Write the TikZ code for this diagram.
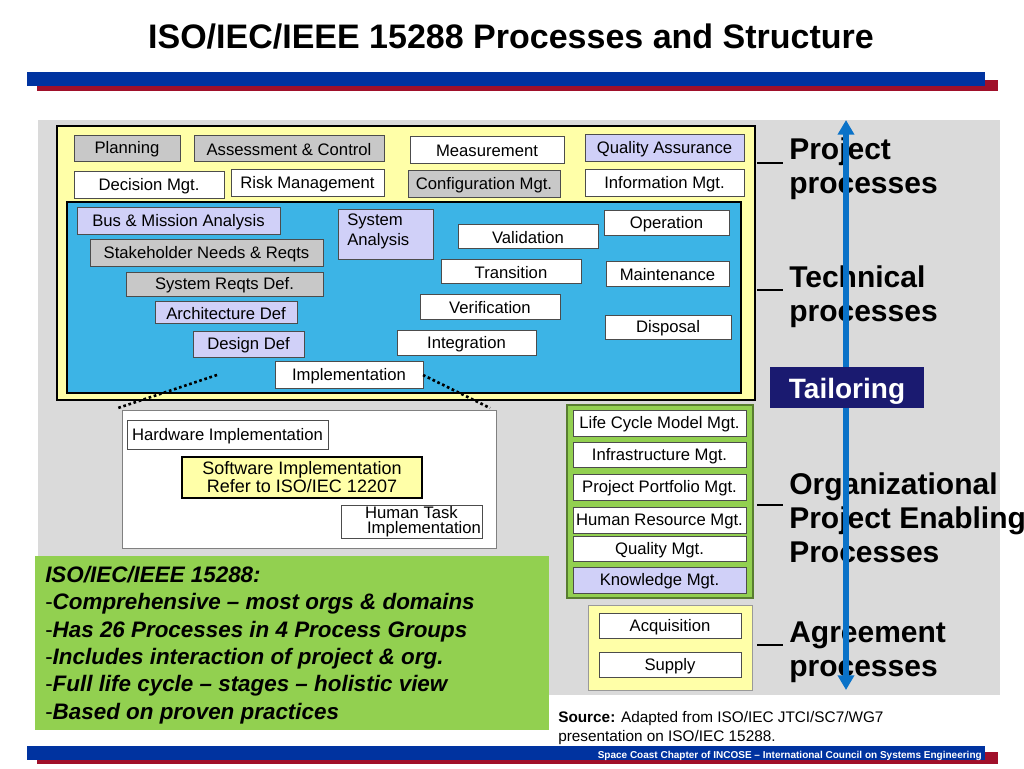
\documentclass[tikz,border=0pt]{standalone}
\usepackage{fontspec}
\setmainfont{Liberation Sans}
\usetikzlibrary{fit,arrows.meta}
\definecolor{barblue}{HTML}{0033A0}
\definecolor{barred}{HTML}{A0102A}
\definecolor{bggray}{HTML}{DADADA}
\definecolor{yel}{HTML}{FFFFA8}
\definecolor{techblue}{HTML}{3CB4E6}
\definecolor{lav}{HTML}{D0D0F8}
\definecolor{gr}{HTML}{C8C8C8}
\definecolor{green}{HTML}{92D050}
\definecolor{navy}{HTML}{1A1A70}
\definecolor{arrowblue}{HTML}{0A72C8}
\tikzset{
 bx/.style={draw=black!70, line width=0.6pt, inner sep=0pt, align=center},
 lbl/.style={anchor=west, font=\bfseries\fontsize{22.5}{25.5}\selectfont, align=left, inner sep=0pt},
 conn/.style={line width=1.3pt}
}
\newcommand{\bxx}[7]{\node[bx, fill=#6, fit={(#2,#3) (#4,#5)}] (#1) {}; \node[font=\fontsize{12.5}{14}\selectfont, inner sep=0, align=center] at ([yshift=-1pt]#1.center) {#7};}
\begin{document}
\begin{tikzpicture}[x=0.75pt,y=-0.75pt]
\useasboundingbox (0,0) rectangle (1024,768);
\fill[white] (0,0) rectangle (1024,768);
\node[font=\bfseries\fontsize{25.5}{27}\selectfont] (title) at (511,37) {ISO/IEC/IEEE 15288 Processes and Structure};
\fill[barred] (37,80) rectangle (998,91);
\fill[barblue] (27,72) rectangle (985,86);
\fill[bggray] (38,120) rectangle (1000,695);
% project
\node[draw=black, line width=2pt, fill=yel, inner sep=0, fit={(57,126) (755,400)}] (proj) {};
\bxx{p1}{74}{135}{180}{161}{gr}{Planning}
\bxx{p2}{194}{135}{384}{161}{gr}{Assessment \& Control}
\bxx{p3}{410}{136}{564}{163}{white}{Measurement}
\bxx{p4}{585}{134}{744}{161}{lav}{Quality Assurance}
\bxx{p5}{74}{171}{224}{198}{white}{Decision Mgt.}
\bxx{p6}{231}{169}{384}{196}{white}{Risk Management}
\bxx{p7}{408}{170}{560}{197}{gr}{Configuration Mgt.}
\bxx{p8}{585}{169}{744}{196}{white}{Information Mgt.}
% technical
\node[draw=black, line width=2pt, fill=techblue, inner sep=0, fit={(67,202) (741,393)}] (tech) {};
\bxx{t1}{77}{207}{280}{234}{lav}{Bus \& Mission Analysis}
\bxx{t2}{90}{239}{323}{266}{gr}{Stakeholder Needs \& Reqts}
\bxx{t3}{126}{272}{323}{296}{gr}{\raisebox{-4pt}{System Reqts Def.}}
\bxx{t4}{155}{301}{297}{323}{lav}{Architecture Def}
\bxx{t5}{193}{331}{304}{357}{lav}{Design Def}
\bxx{t6}{275}{361}{423}{388}{white}{\raisebox{-4pt}{Implementation}}
\bxx{t7}{397}{330}{536}{355}{white}{Integration}
\bxx{t8}{420}{294}{560}{319}{white}{Verification}
\bxx{t9}{441}{259}{581}{283}{white}{Transition}
\bxx{t10}{458}{224}{598}{248}{white}{Validation}
\node[bx, fill=lav, fit={(338,209) (433,259)}] (t11) {};
\node[anchor=north west, align=left, inner sep=0, font=\fontsize{12.5}{15}\selectfont] at (347,214) {System\\Analysis};
\bxx{t12}{604}{210}{729}{235}{white}{Operation}
\bxx{t13}{606}{261}{729}{286}{white}{Maintenance}
\bxx{t14}{605}{315}{731}{339}{white}{Disposal}
% implementation detail
\coordinate (d1) at (217,375); \coordinate (d2) at (118,408);
\coordinate (d3) at (423,375); \coordinate (d4) at (490,408);
\draw[line width=2pt, dotted] (d1) -- (d2);
\draw[line width=2pt, dotted] (d3) -- (d4);
\node[draw=black!50, fill=white, inner sep=0, fit={(122,410) (496,548)}] (hw) {};
\bxx{h1}{127}{420}{328}{449}{white}{Hardware Implementation}
\node[draw=black, line width=2pt, fill=yel, inner sep=0, fit={(182,457) (422,498)}] (sw) {};
\node[inner sep=0, align=center, font=\fontsize{13.5}{12.5}\selectfont] at (sw.center) {Software Implementation\\Refer to ISO/IEC 12207};
\node[bx, fill=white, fit={(341,505) (482,538)}] (h3) {};
\node[inner sep=0, align=center, font=\fontsize{12.5}{11.5}\selectfont] at (h3.center) {Human Task\\\hspace*{1.5em}Implementation};
% organizational
\node[draw=green!60!black, line width=1pt, fill=green, inner sep=0, fit={(567,405) (753,598)}] (org) {};
\bxx{o1}{573}{410}{746}{436}{white}{Life Cycle Model Mgt.}
\bxx{o2}{573}{442}{746}{467}{white}{Infrastructure Mgt.}
\bxx{o3}{573}{474}{746}{500}{white}{Project Portfolio Mgt.}
\bxx{o4}{573}{507}{746}{533}{white}{Human Resource Mgt.}
\bxx{o5}{573}{536}{746}{561}{white}{Quality Mgt.}
\bxx{o6}{573}{567}{746}{593}{lav}{Knowledge Mgt.}
% agreement
\node[draw=black!40, fill=yel, inner sep=0, fit={(588,605) (752,690)}] (agr) {};
\bxx{a1}{599}{613}{741}{638}{white}{Acquisition}
\bxx{a2}{599}{652}{741}{677}{white}{Supply}
% labels
\node[lbl] (L1) at (789,169) {Project\\processes};
\node[lbl] (L2) at (789,297) {Technical\\processes};
\node[lbl] (L3) at (789,518) {Organizational\\Project Enabling\\Processes};
\node[lbl] (L4) at (789,652) {Agreement\\processes};
\coordinate (c1) at (757,163); \coordinate (c2) at (757,290);
\coordinate (c3) at (757,505); \coordinate (c4) at (757,645);
\draw[conn] (c1) -- ++(26,0);
\draw[conn] (c2) -- ++(26,0);
\draw[conn] (c3) -- ++(26,0);
\draw[conn] (c4) -- ++(26,0);
% arrow
\coordinate (ab) at (846,690); \coordinate (at) at (846,120);
\draw[arrowblue, line width=4pt, {Triangle[length=11pt,width=12pt]}-{Triangle[length=11pt,width=12pt]}] (ab) -- (at);
\node[fill=navy, inner sep=0, fit={(770,367) (924,408)}] (tail) {};
\node[text=white, font=\bfseries\fontsize{21}{22}\selectfont, inner sep=0] at ([yshift=-3pt]tail.center) {Tailoring};
% green text box
\node[fill=green, inner sep=0, fit={(35,556) (549,730)}] (gbox) {};
\node[anchor=north west, align=left, inner sep=0, font=\bfseries\itshape\fontsize{16.8}{20.5}\selectfont] at (45,566) {ISO/IEC/IEEE 15288:\\
{\normalfont-}Comprehensive -- most orgs \& domains\\
{\normalfont-}Has 26 Processes in 4 Process Groups\\
{\normalfont-}Includes interaction of project \& org.\\
{\normalfont-}Full life cycle -- stages -- holistic view\\
{\normalfont-}Based on proven practices};
\node[anchor=north west, align=left, inner sep=0, font=\fontsize{11.5}{14.5}\selectfont] (src) at (558,711) {\textbf{Source:} Adapted from ISO/IEC JTCI/SC7/WG7\\presentation on ISO/IEC 15288.};
% footer
\fill[barred] (37,752) rectangle (998,764);
\fill[barblue] (27,746) rectangle (985,760);
\node[anchor=east, text=white, font=\bfseries\fontsize{7.5}{8}\selectfont, inner sep=0] (foot) at (982,756) {Space Coast Chapter of INCOSE -- International Council on Systems Engineering};
\end{tikzpicture}
\end{document}
